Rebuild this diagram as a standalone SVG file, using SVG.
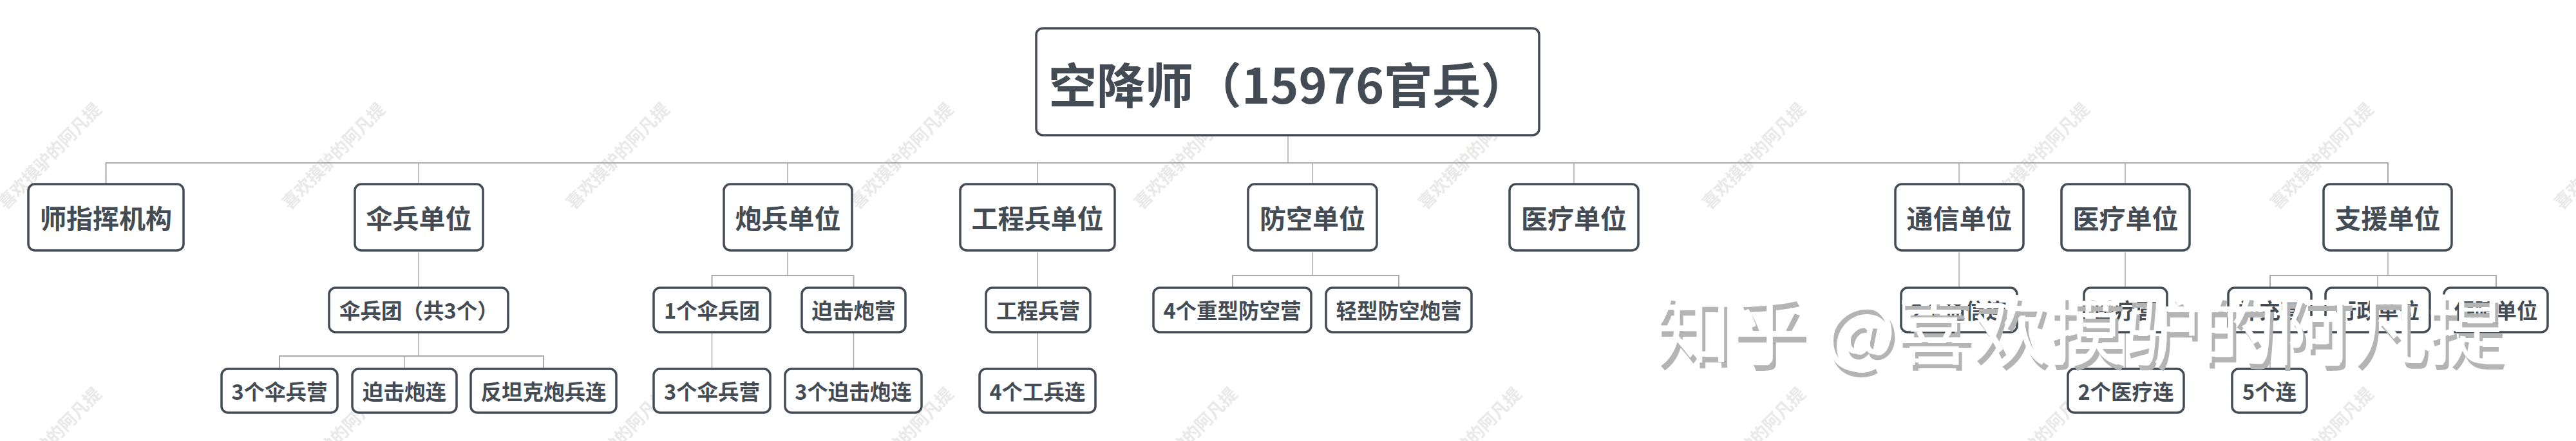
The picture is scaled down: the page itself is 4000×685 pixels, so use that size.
<svg xmlns="http://www.w3.org/2000/svg" width="4000" height="685" viewBox="0 0 4000 685">
<style>
text{font-family:"Noto Sans CJK SC","Liberation Sans",sans-serif}
.bg{fill:#fff}
.wm{font-size:27px;font-weight:700;fill:#e9e9e9;text-anchor:middle}
.l{fill:none;stroke:#aaaaaa;stroke-width:1.5}
.b{fill:none;stroke:#aaaaaa;stroke-width:2}
.n{fill:#fff;stroke:#434b54;stroke-width:3.500}
.t0,.t1,.t2{font-weight:700;fill:#434b54}
.t0{font-size:75px}
.t1{font-size:41px;text-anchor:middle}
.t2{font-size:32.500px;text-anchor:middle}
.s{text-anchor:start}
.big{font-size:118px;font-weight:400}
.g{fill:#b4b4b4}
.w{fill:#fff}
</style>
<rect class="bg" width="4000" height="685"/>
<g id="faint-watermarks">
<text class="wm" transform="translate(84,249) rotate(-46)">喜欢摸驴的阿凡提</text>
<text class="wm" transform="translate(525,249) rotate(-46)">喜欢摸驴的阿凡提</text>
<text class="wm" transform="translate(966,249) rotate(-46)">喜欢摸驴的阿凡提</text>
<text class="wm" transform="translate(1407,249) rotate(-46)">喜欢摸驴的阿凡提</text>
<text class="wm" transform="translate(1848,249) rotate(-46)">喜欢摸驴的阿凡提</text>
<text class="wm" transform="translate(2289,249) rotate(-46)">喜欢摸驴的阿凡提</text>
<text class="wm" transform="translate(2730,249) rotate(-46)">喜欢摸驴的阿凡提</text>
<text class="wm" transform="translate(3171,249) rotate(-46)">喜欢摸驴的阿凡提</text>
<text class="wm" transform="translate(3612,249) rotate(-46)">喜欢摸驴的阿凡提</text>
<text class="wm" transform="translate(4053,249) rotate(-46)">喜欢摸驴的阿凡提</text>
<text class="wm" transform="translate(84,691) rotate(-46)">喜欢摸驴的阿凡提</text>
<text class="wm" transform="translate(525,691) rotate(-46)">喜欢摸驴的阿凡提</text>
<text class="wm" transform="translate(966,691) rotate(-46)">喜欢摸驴的阿凡提</text>
<text class="wm" transform="translate(1407,691) rotate(-46)">喜欢摸驴的阿凡提</text>
<text class="wm" transform="translate(1848,691) rotate(-46)">喜欢摸驴的阿凡提</text>
<text class="wm" transform="translate(2289,691) rotate(-46)">喜欢摸驴的阿凡提</text>
<text class="wm" transform="translate(2730,691) rotate(-46)">喜欢摸驴的阿凡提</text>
<text class="wm" transform="translate(3171,691) rotate(-46)">喜欢摸驴的阿凡提</text>
<text class="wm" transform="translate(3612,691) rotate(-46)">喜欢摸驴的阿凡提</text>
</g>
<g id="connectors">
<path class="l" d="M2000 210V253"/>
<path class="b" d="M164.500 286V253H3708V286"/>
<path class="l" d="M650 253V286M1223 253V286M1611 253V286M2038 253V286M2444 253V286M3042 253V286M3300 253V286"/>
<path class="l" d="M650 392V447M650 516V553"/>
<path class="b" d="M434 573V553H844V573"/>
<path class="l" d="M628 553V573"/>
<path class="l" d="M1223 392V428"/>
<path class="b" d="M1105.500 447V428H1325.500V447"/>
<path class="l" d="M1105.500 516V573M1325.500 516V573"/>
<path class="l" d="M1611 392V447M1611 516V573"/>
<path class="l" d="M2038 392V428"/>
<path class="b" d="M1914 447V428H2172V447"/>
<path class="l" d="M3042 392V447"/>
<path class="l" d="M3300 392V447M3300 516V573"/>
<path class="l" d="M3708 392V428"/>
<path class="b" d="M3525 447V428H3876V447"/>
<path class="l" d="M3692 428V447"/>
<path class="l" d="M3525 516V573"/>
</g>
<g id="root"><rect class="n" x="1609" y="44" width="781" height="166" rx="10"/><text class="t0 s" x="1628" y="161">空降师（15976官兵）</text></g>
<g id="n-cmd"><rect class="n" x="44" y="286" width="241" height="103" rx="10"/><text class="t1" x="164.500" y="355">师指挥机构</text></g>
<g id="n-para"><rect class="n" x="551" y="286" width="199" height="103" rx="10"/><text class="t1" x="650.500" y="355">伞兵单位</text></g>
<g id="n-arty"><rect class="n" x="1124" y="286" width="199" height="103" rx="10"/><text class="t1" x="1223.500" y="355">炮兵单位</text></g>
<g id="n-eng"><rect class="n" x="1491" y="286" width="240" height="103" rx="10"/><text class="t1" x="1611" y="355">工程兵单位</text></g>
<g id="n-aa"><rect class="n" x="1938" y="286" width="200" height="103" rx="10"/><text class="t1" x="2038" y="355">防空单位</text></g>
<g id="n-med1"><rect class="n" x="2344" y="286" width="200" height="103" rx="10"/><text class="t1" x="2444" y="355">医疗单位</text></g>
<g id="n-sig"><rect class="n" x="2943" y="286" width="199" height="103" rx="10"/><text class="t1" x="3042.500" y="355">通信单位</text></g>
<g id="n-med2"><rect class="n" x="3201" y="286" width="199" height="103" rx="10"/><text class="t1" x="3300.500" y="355">医疗单位</text></g>
<g id="n-sup"><rect class="n" x="3608" y="286" width="199" height="103" rx="10"/><text class="t1" x="3707.500" y="355">支援单位</text></g>
<g id="n-para-reg"><rect class="n" x="511" y="447" width="278" height="69" rx="10"/><text class="t2 s" x="527" y="495">伞兵团（共3个）</text></g>
<g id="n-arty-a"><rect class="n" x="1015" y="447" width="181" height="69" rx="10"/><text class="t2" x="1105.500" y="495">1个伞兵团</text></g>
<g id="n-arty-b"><rect class="n" x="1245" y="447" width="161" height="69" rx="10"/><text class="t2" x="1325.500" y="495">迫击炮营</text></g>
<g id="n-eng-a"><rect class="n" x="1531" y="447" width="162" height="69" rx="10"/><text class="t2" x="1612" y="495">工程兵营</text></g>
<g id="n-aa-a"><rect class="n" x="1791" y="447" width="245" height="69" rx="10"/><text class="t2" x="1913.500" y="495">4个重型防空营</text></g>
<g id="n-aa-b"><rect class="n" x="2059" y="447" width="226" height="69" rx="10"/><text class="t2" x="2172" y="495">轻型防空炮营</text></g>
<g id="n-sig-a"><rect class="n" x="2952" y="447" width="180" height="69" rx="10"/><text class="t2" x="3042" y="495">2个通信连</text></g>
<g id="n-med-a"><rect class="n" x="3236" y="447" width="129" height="69" rx="10"/><text class="t2" x="3300.500" y="495">医疗营</text></g>
<g id="n-sup-a"><rect class="n" x="3460" y="447" width="129" height="69" rx="10"/><text class="t2" x="3524.500" y="495">补充营</text></g>
<g id="n-sup-b"><rect class="n" x="3611" y="447" width="162" height="69" rx="10"/><text class="t2" x="3692" y="495">行政单位</text></g>
<g id="n-sup-c"><rect class="n" x="3795" y="447" width="161" height="69" rx="10"/><text class="t2" x="3875.500" y="495">保障单位</text></g>
<g id="n-p1"><rect class="n" x="344" y="573" width="180" height="68" rx="10"/><text class="t2" x="434" y="621">3个伞兵营</text></g>
<g id="n-p2"><rect class="n" x="547" y="573" width="162" height="68" rx="10"/><text class="t2" x="628" y="621">迫击炮连</text></g>
<g id="n-p3"><rect class="n" x="731" y="573" width="226" height="68" rx="10"/><text class="t2" x="844" y="621">反坦克炮兵连</text></g>
<g id="n-a1"><rect class="n" x="1015" y="573" width="181" height="68" rx="10"/><text class="t2" x="1105.500" y="621">3个伞兵营</text></g>
<g id="n-a2"><rect class="n" x="1219" y="573" width="212" height="68" rx="10"/><text class="t2" x="1325" y="621">3个迫击炮连</text></g>
<g id="n-e1"><rect class="n" x="1521" y="573" width="180" height="68" rx="10"/><text class="t2" x="1611" y="621">4个工兵连</text></g>
<g id="n-m1"><rect class="n" x="3211" y="573" width="180" height="68" rx="10"/><text class="t2" x="3301" y="621">2个医疗连</text></g>
<g id="n-s1"><rect class="n" x="3466" y="573" width="116" height="68" rx="10"/><text class="t2" x="3524" y="621">5个连</text></g>
<g id="zhihu-watermark">
<text class="big g" x="2575" y="566">知乎 @喜欢摸驴的阿凡提</text>
<text class="big w" x="2570" y="557">知乎 @喜欢摸驴的阿凡提</text>
</g>
</svg>
